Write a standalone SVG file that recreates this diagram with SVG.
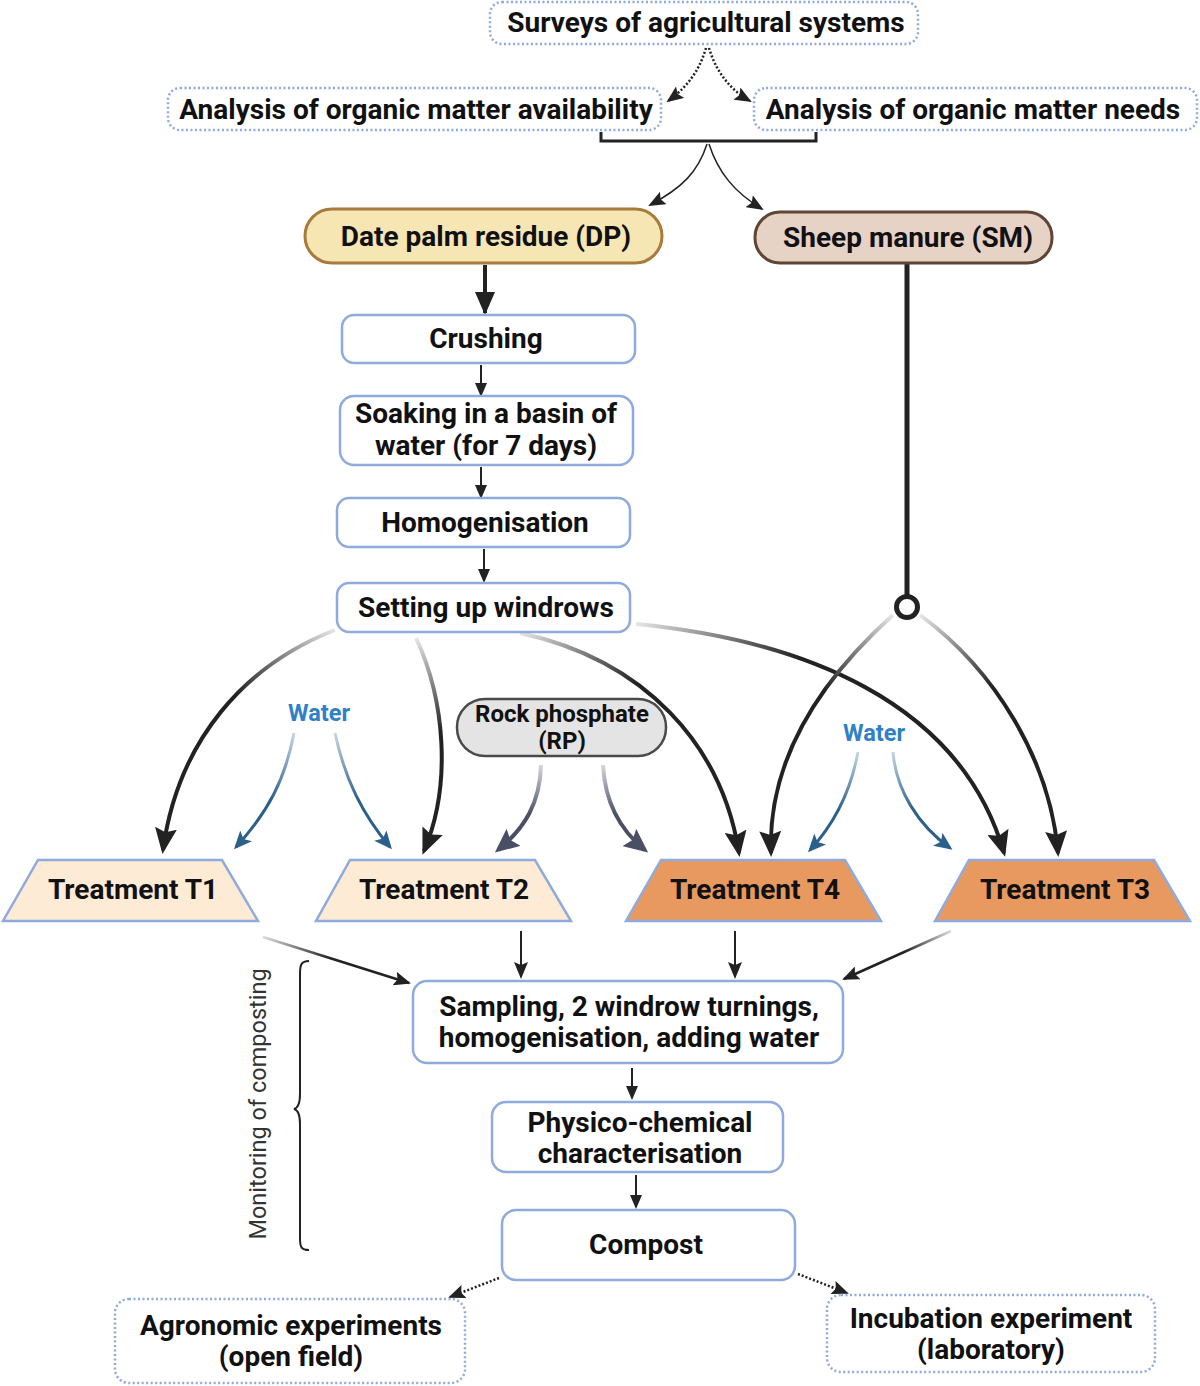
<svg xmlns="http://www.w3.org/2000/svg" width="1200" height="1386" viewBox="0 0 1200 1386">
<style>
  text { font-family: Roboto, "Liberation Sans", sans-serif; font-weight: 700; fill: #111; text-anchor: middle; }
  .t27 { font-size: 28px; }
  .t23 { font-size: 24px; }
  .water { font-size: 23.5px; fill: #2f80c8; }
  .mon { font-size: 23.5px; font-weight: 400; fill: #333; }
  .dotbox { fill: #fff; stroke: #8faadc; stroke-width: 2.5; stroke-dasharray: 2 2.5; }
  .box { fill: #fff; stroke: #8faadc; stroke-width: 2.5; }
  .trl { fill: #fdebd5; stroke: #8faadc; stroke-width: 2.5; }
  .trd { fill: #e8995f; stroke: #8faadc; stroke-width: 2.5; }
  .thin { fill: none; stroke: #222; stroke-width: 2; }
  .dotted { fill: none; stroke: #222; stroke-width: 2.5; stroke-dasharray: 2 2; }
  .big { fill: none; stroke-width: 4; }
</style>
<defs>
  <marker id="mBig" viewBox="0 0 26 22" refX="22" refY="11" markerWidth="26" markerHeight="22" markerUnits="userSpaceOnUse" orient="auto">
    <path d="M0,0 L26,11 L0,22 L4,11 z" fill="#222"/>
  </marker>
  <marker id="mSmall" viewBox="0 0 14 12" refX="12" refY="6" markerWidth="14" markerHeight="12" markerUnits="userSpaceOnUse" orient="auto">
    <path d="M0,0 L14,6 L0,12 z" fill="#222"/>
  </marker>
  <marker id="mMid" viewBox="0 0 17 14" refX="15" refY="7" markerWidth="17" markerHeight="14" markerUnits="userSpaceOnUse" orient="auto">
    <path d="M0,0 L17,7 L0,14 L3,7 z" fill="#222"/>
  </marker>
  <marker id="mThick" viewBox="0 0 23 20" refX="21" refY="10" markerWidth="23" markerHeight="20" markerUnits="userSpaceOnUse" orient="auto">
    <path d="M0,0 L23,10 L0,20 z" fill="#222"/>
  </marker>
  <marker id="mWater" viewBox="0 0 18 16" refX="15" refY="8" markerWidth="18" markerHeight="16" markerUnits="userSpaceOnUse" orient="auto">
    <path d="M0,0 L18,8 L0,16 L4,8 z" fill="#2b5f8c"/>
  </marker>
  <marker id="mRP" viewBox="0 0 24 22" refX="20" refY="11" markerWidth="24" markerHeight="22" markerUnits="userSpaceOnUse" orient="auto">
    <path d="M0,0 L24,11 L0,22 L4,11 z" fill="#4b4f66"/>
  </marker>
  <linearGradient id="g1" gradientUnits="userSpaceOnUse" x1="335" y1="630" x2="240" y2="700"><stop offset="0" stop-color="#e6e6e6"/><stop offset="1" stop-color="#222"/></linearGradient>
  <linearGradient id="g2" gradientUnits="userSpaceOnUse" x1="416" y1="638" x2="446" y2="730"><stop offset="0" stop-color="#e6e6e6"/><stop offset="1" stop-color="#222"/></linearGradient>
  <linearGradient id="g3" gradientUnits="userSpaceOnUse" x1="520" y1="633" x2="640" y2="675"><stop offset="0" stop-color="#e6e6e6"/><stop offset="1" stop-color="#222"/></linearGradient>
  <linearGradient id="g4" gradientUnits="userSpaceOnUse" x1="636" y1="624" x2="800" y2="655"><stop offset="0" stop-color="#e6e6e6"/><stop offset="1" stop-color="#222"/></linearGradient>
  <linearGradient id="g5" gradientUnits="userSpaceOnUse" x1="893" y1="615" x2="825" y2="690"><stop offset="0" stop-color="#e6e6e6"/><stop offset="1" stop-color="#222"/></linearGradient>
  <linearGradient id="g6" gradientUnits="userSpaceOnUse" x1="920" y1="615" x2="990" y2="690"><stop offset="0" stop-color="#e6e6e6"/><stop offset="1" stop-color="#222"/></linearGradient>
  <linearGradient id="gw1" gradientUnits="userSpaceOnUse" x1="294" y1="733" x2="270" y2="800"><stop offset="0" stop-color="#c5d6e6"/><stop offset="1" stop-color="#2b5f8c"/></linearGradient>
  <linearGradient id="gw2" gradientUnits="userSpaceOnUse" x1="335" y1="733" x2="360" y2="800"><stop offset="0" stop-color="#c5d6e6"/><stop offset="1" stop-color="#2b5f8c"/></linearGradient>
  <linearGradient id="gw3" gradientUnits="userSpaceOnUse" x1="858" y1="752" x2="840" y2="810"><stop offset="0" stop-color="#c5d6e6"/><stop offset="1" stop-color="#2b5f8c"/></linearGradient>
  <linearGradient id="gw4" gradientUnits="userSpaceOnUse" x1="893" y1="752" x2="915" y2="810"><stop offset="0" stop-color="#c5d6e6"/><stop offset="1" stop-color="#2b5f8c"/></linearGradient>
  <linearGradient id="gr1" gradientUnits="userSpaceOnUse" x1="541" y1="765" x2="530" y2="815"><stop offset="0" stop-color="#d5d6dd"/><stop offset="1" stop-color="#4b4f66"/></linearGradient>
  <linearGradient id="gr2" gradientUnits="userSpaceOnUse" x1="603" y1="765" x2="615" y2="815"><stop offset="0" stop-color="#d5d6dd"/><stop offset="1" stop-color="#4b4f66"/></linearGradient>
  <linearGradient id="gb1" gradientUnits="userSpaceOnUse" x1="263" y1="937" x2="330" y2="960"><stop offset="0" stop-color="#dddddd"/><stop offset="1" stop-color="#222"/></linearGradient>
  <linearGradient id="gb3" gradientUnits="userSpaceOnUse" x1="951" y1="931" x2="905" y2="955"><stop offset="0" stop-color="#dddddd"/><stop offset="1" stop-color="#222"/></linearGradient>
</defs>

<g id="connectors">
  <!-- top dotted -->
  <path class="dotted" d="M706 48 C700 68 690 85 668 101" marker-end="url(#mMid)"/>
  <path class="dotted" d="M709 48 C715 68 727 88 750 101" marker-end="url(#mMid)"/>
  <!-- bracket -->
  <path d="M601 132 V141 H816 V132" fill="none" stroke="#222" stroke-width="3"/>
  <path d="M707 144 C698 172 682 188 650 205" fill="none" stroke="#222" stroke-width="1.5" marker-end="url(#mMid)"/>
  <path d="M709 144 C718 172 734 192 762 209" fill="none" stroke="#222" stroke-width="1.5" marker-end="url(#mMid)"/>
  <!-- DP chain -->
  <path d="M485 265 V313" fill="none" stroke="#222" stroke-width="4" marker-end="url(#mThick)"/>
  <path class="thin" d="M481 365 V395" marker-end="url(#mSmall)"/>
  <path class="thin" d="M481 467 V497" marker-end="url(#mSmall)"/>
  <path class="thin" d="M484 549 V581" marker-end="url(#mSmall)"/>
  <!-- SM line -->
  <path d="M907 263 V596" fill="none" stroke="#222" stroke-width="5"/>
  <circle cx="907" cy="607" r="10.5" fill="#fff" stroke="#222" stroke-width="5"/>
  <!-- windrows to treatments -->
  <path class="big" stroke="url(#g1)" d="M335 630 C245 665 178 740 163 850" marker-end="url(#mBig)"/>
  <path class="big" stroke="url(#g2)" d="M416 638 C445 700 452 785 424 851" marker-end="url(#mBig)"/>
  <path class="big" stroke="url(#g3)" d="M520 633 C645 660 722 745 739 853" marker-end="url(#mBig)"/>
  <path class="big" stroke="url(#g4)" d="M636 624 C800 640 960 700 1004 853" marker-end="url(#mBig)"/>
  <path class="big" stroke="url(#g5)" d="M893 615 C815 685 768 765 771 853" marker-end="url(#mBig)"/>
  <path class="big" stroke="url(#g6)" d="M920 615 C995 670 1050 760 1058 853" marker-end="url(#mBig)"/>
  <!-- water -->
  <path fill="none" stroke-width="3" stroke="url(#gw1)" d="M294 733 C285 780 268 812 236 847" marker-end="url(#mWater)"/>
  <path fill="none" stroke-width="3" stroke="url(#gw2)" d="M335 733 C345 780 363 815 390 847" marker-end="url(#mWater)"/>
  <path fill="none" stroke-width="3" stroke="url(#gw3)" d="M858 752 C851 790 836 822 810 850" marker-end="url(#mWater)"/>
  <path fill="none" stroke-width="3" stroke="url(#gw4)" d="M893 752 C896 790 918 825 950 848" marker-end="url(#mWater)"/>
  <!-- rock phosphate -->
  <path fill="none" stroke-width="4" stroke="url(#gr1)" d="M541 765 C540 803 525 828 498 850" marker-end="url(#mRP)"/>
  <path fill="none" stroke-width="4" stroke="url(#gr2)" d="M603 765 C605 803 620 830 645 850" marker-end="url(#mRP)"/>
  <!-- treatments to sampling -->
  <path fill="none" stroke-width="2.5" stroke="url(#gb1)" d="M263 937 L409 983" marker-end="url(#mMid)"/>
  <path class="thin" d="M521 931 V977" marker-end="url(#mMid)"/>
  <path class="thin" d="M735 931 V977" marker-end="url(#mMid)"/>
  <path fill="none" stroke-width="2.5" stroke="url(#gb3)" d="M951 931 L844 979" marker-end="url(#mMid)"/>
  <path class="thin" d="M632 1068 V1098" marker-end="url(#mSmall)"/>
  <path class="thin" d="M636 1175 V1207" marker-end="url(#mSmall)"/>
  <!-- compost dotted -->
  <path class="dotted" d="M499 1278 L450 1297" marker-end="url(#mMid)"/>
  <path class="dotted" d="M798 1274 L847 1293" marker-end="url(#mMid)"/>
  <!-- brace -->
  <path d="M309 961 C301 961 300 965 300 974 L300 1094 C300 1104 298 1108 294 1109 C298 1110 300 1114 300 1124 L300 1238 C300 1247 301 1250 309 1250" fill="none" stroke="#222" stroke-width="2"/>
</g>

<g id="surveys">
  <rect class="dotbox" x="490" y="2" width="428" height="42" rx="12"/>
  <text class="t27" x="706" y="32">Surveys of agricultural systems</text>
</g>
<g id="availability">
  <rect class="dotbox" x="168" y="88" width="493" height="42" rx="12"/>
  <text class="t27" x="416" y="119">Analysis of organic matter availability</text>
</g>
<g id="needs">
  <rect class="dotbox" x="754" y="88" width="443" height="42" rx="12"/>
  <text class="t27" x="973" y="119">Analysis of organic matter needs</text>
</g>
<g id="dp">
  <rect x="305" y="209" width="357" height="54" rx="27" fill="#f6e6b4" stroke="#a87b3a" stroke-width="3"/>
  <text class="t27" x="486" y="246">Date palm residue (DP)</text>
</g>
<g id="sm">
  <rect x="755" y="212" width="297" height="51" rx="25" fill="#e6d3c6" stroke="#5e4536" stroke-width="3"/>
  <text class="t27" x="908" y="247">Sheep manure (SM)</text>
</g>
<g id="crushing">
  <rect class="box" x="342" y="315" width="293" height="48" rx="12"/>
  <text class="t27" x="486" y="348">Crushing</text>
</g>
<g id="soaking">
  <rect class="box" x="340" y="396" width="293" height="69" rx="14"/>
  <text class="t27" x="486" y="423">Soaking in a basin of</text>
  <text class="t27" x="486" y="455">water (for 7 days)</text>
</g>
<g id="homogenisation">
  <rect class="box" x="337" y="498" width="293" height="49" rx="12"/>
  <text class="t27" x="485" y="532">Homogenisation</text>
</g>
<g id="windrows">
  <rect class="box" x="337" y="583" width="293" height="49" rx="12"/>
  <text class="t27" x="486" y="617">Setting up windrows</text>
</g>
<g id="rp">
  <rect x="457" y="699" width="209" height="57" rx="28" fill="#e4e4e4" stroke="#4a4a4a" stroke-width="2.5"/>
  <text class="t23" x="562" y="722">Rock phosphate</text>
  <text class="t23" x="562" y="749">(RP)</text>
</g>
<g id="water1">
  <text class="water" x="319" y="721">Water</text>
</g>
<g id="water2">
  <text class="water" x="874" y="741">Water</text>
</g>
<g id="t1">
  <polygon class="trl" points="38,860 222,860 258,921 3,921"/>
  <text class="t27" x="133" y="899">Treatment T1</text>
</g>
<g id="t2">
  <polygon class="trl" points="350,860 535,860 571,921 316,921"/>
  <text class="t27" x="444" y="899">Treatment T2</text>
</g>
<g id="t4">
  <polygon class="trd" points="661,860 845,860 881,921 626,921"/>
  <text class="t27" x="755" y="899">Treatment T4</text>
</g>
<g id="t3">
  <polygon class="trd" points="969,860 1154,860 1190,921 935,921"/>
  <text class="t27" x="1065" y="899">Treatment T3</text>
</g>
<g id="sampling">
  <rect class="box" x="413" y="981" width="430" height="82" rx="14"/>
  <text class="t27" x="629" y="1016">Sampling, 2 windrow turnings,</text>
  <text class="t27" x="629" y="1047">homogenisation, adding water</text>
</g>
<g id="physico">
  <rect class="box" x="492" y="1102" width="291" height="70" rx="14"/>
  <text class="t27" x="640" y="1132">Physico-chemical</text>
  <text class="t27" x="640" y="1163">characterisation</text>
</g>
<g id="compost">
  <rect class="box" x="502" y="1210" width="293" height="70" rx="14"/>
  <text class="t27" x="646" y="1254">Compost</text>
</g>
<g id="monitoring">
  <text class="mon" transform="translate(266 1104) rotate(-90)">Monitoring of composting</text>
</g>
<g id="agronomic">
  <rect class="dotbox" x="115" y="1299" width="350" height="84" rx="14"/>
  <text class="t27" x="291" y="1335">Agronomic experiments</text>
  <text class="t27" x="291" y="1366">(open field)</text>
</g>
<g id="incubation">
  <rect class="dotbox" x="827" y="1295" width="328" height="77" rx="14"/>
  <text class="t27" x="991" y="1328">Incubation experiment</text>
  <text class="t27" x="991" y="1359">(laboratory)</text>
</g>
</svg>
